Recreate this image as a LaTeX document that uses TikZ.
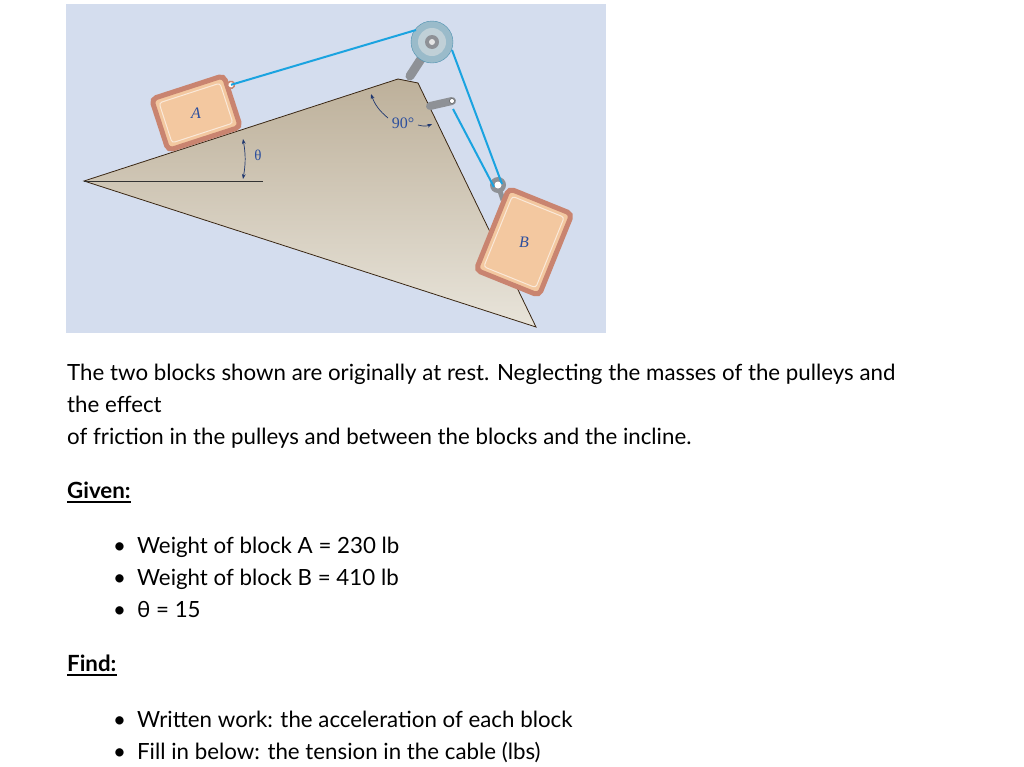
\documentclass[tikz,border=0pt]{standalone}
\usepackage{fontspec}
\setmainfont{Lato}
\newfontfamily\serifth{Liberation Serif}
\usetikzlibrary{arrows.meta}
\definecolor{bgblue}{HTML}{D4DDEE}
\definecolor{wedgetop}{HTML}{BDB09A}
\definecolor{wedgebot}{HTML}{E8E4DA}
\definecolor{blkout}{HTML}{C98470}
\definecolor{blkin}{HTML}{F3C8A0}
\definecolor{cable}{HTML}{1AA3E0}
\definecolor{lblue}{HTML}{2C4F9E}
\definecolor{metal}{HTML}{8E9196}
\begin{document}
\begin{tikzpicture}[x=1pt,y=-1pt,
  txt/.style={anchor=base west,inner sep=0pt,font=\fontsize{22.3}{26}\selectfont},
  hd/.style={txt,font=\fontsize{22.3}{26}\selectfont\bfseries},
  blk/.style={draw=blkout,line width=5pt,rounded corners=5pt,fill=blkin},
  lbl/.style={text=lblue,font=\serifth\itshape\fontsize{16}{18}\selectfont},
  cab/.style={cable,line width=2pt},
  dim/.style={lblue!70!black,line width=0.7pt,-{Stealth[length=5pt]}}]
\useasboundingbox (0,0) rectangle (1024,766);
\fill[white] (0,0) rectangle (1024,766);
\fill[bgblue] (66,4) rectangle (606,333);
% wedge
\shade[top color=wedgetop,bottom color=wedgebot,draw=black!70!brown,line width=0.8pt]
  (84,181) -- (398,79) -- (418,83) -- (536,327) -- cycle;
\draw[black!80,line width=0.8pt] (84,181) -- (263,181);
% pulley bracket
\draw[metal,line width=9pt,line cap=round] (410,76) -- (432,42);
\draw[metal,line width=8pt,line cap=round] (430,106) -- (452,101);
\fill[white] (452,101) circle (2.5);
\draw[metal!60!black,line width=0.5pt] (452,101) circle (2.5);
% pulley
\node[circle,fill=cable!40!gray!60,draw=cable!50!gray,minimum size=42pt,inner sep=0pt] (pul) at (432,42) {};
\fill[cable!30!gray!40] (432,42) circle (14);
\fill[metal] (432,42) circle (7);
\fill[white!80!gray] (432,42) circle (3);
% block A
\begin{scope}[shift={(196,113)},rotate=18]
\draw[blk] (-38,-27) rectangle (38,27);
\draw[white!60!blkin,line width=1pt,rounded corners=3pt] (-32,-21) rectangle (32,21);
\node[lbl] (A) at (0,0) {A};
\draw[blkout,line width=1.5pt,fill=white] (42,-16) circle (3.5);
\coordinate (hA) at (42,-16);
\end{scope}
% block B
\draw[metal,line width=5pt] (498,185) -- (503,200);
\fill[metal] (498,185) circle (8);
\fill[white] (498,185) circle (3.5);
\coordinate (hB) at (502,184);
\coordinate (hB2) at (494,187);
\begin{scope}[shift={(524,242)},rotate=-22]
\draw[blk] (-34,-44) rectangle (34,44);
\draw[white!60!blkin,line width=1pt,rounded corners=3pt] (-28,-38) rectangle (28,38);
\node[lbl] (B) at (0,0) {B};
\end{scope}
% cables
\coordinate (pt) at (416,30);
\coordinate (pr) at (452,50);
\coordinate (br) at (453,109);
\draw[cab] (hA) -- (pt);
\draw[cab] (pr) -- (hB);
\draw[cab] (br) -- (hB2);
% angles
\node[text=lblue,font=\serifth\fontsize{15}{16}\selectfont] (th) at (258,155) {θ};
\draw[dim,{Stealth[length=5pt]}-{Stealth[length=5pt]}] (243,139) to[bend left=10] (243,179);
\node[text=lblue,font=\serifth\fontsize{16}{18}\selectfont] (n90) at (403,123) {90°};
\draw[dim] (388,118) to[bend left=15] (371,94);
\draw[dim] (418,125) to[bend right=20] (432,124);
% text
\node[txt] (t1) at (67,380) {The two blocks shown are originally at rest. Neglecting the masses of the pulleys and};
\node[txt] (t2) at (67,412) {the effect};
\node[txt] (t3) at (67,444) {of friction in the pulleys and between the blocks and the incline.};
\node[hd] (g) at (67,498) {Given:};
\draw[line width=1.3pt] (67,502) -- (g.base east |- 0,502);
\node[txt] (b1) at (113,553) {•\hspace{11pt}Weight of block A = 230 lb};
\node[txt] (b2) at (113,585) {•\hspace{11pt}Weight of block B = 410 lb};
\node[txt] (b3) at (113,617) {•\hspace{11pt}θ = 15};
\node[hd] (f) at (67,671) {Find:};
\draw[line width=1.3pt] (67,675) -- (f.base east |- 0,675);
\node[txt] (c1) at (113,727) {•\hspace{11pt}Written work: the acceleration of each block};
\node[txt] (c2) at (113,759) {•\hspace{11pt}Fill in below: the tension in the cable (lbs)};
\end{tikzpicture}
\end{document}
